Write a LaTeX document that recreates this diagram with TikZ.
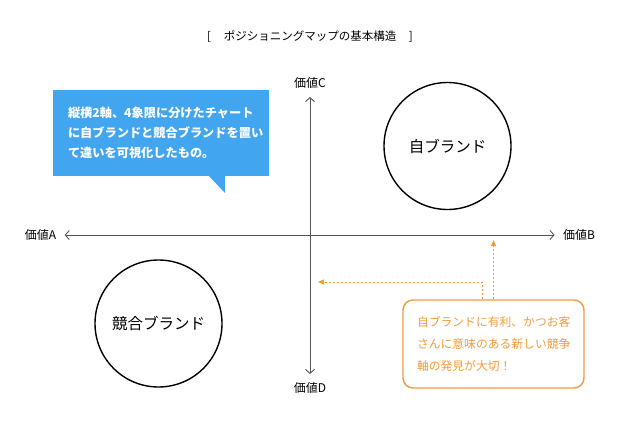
\documentclass[tikz,border=0pt]{standalone}
\usepackage{fontspec}
\setmainfont{Noto Sans CJK JP}
\usetikzlibrary{arrows.meta,positioning}
\definecolor{mapblue}{HTML}{42A5F0}
\definecolor{maporange}{HTML}{F39B3B}
\definecolor{axisgray}{HTML}{555555}
\tikzset{
  axislabel/.style={font=\fontsize{12}{14}\selectfont, inner sep=0pt, outer sep=8.5pt},
  axisline/.style={draw=axisgray, line width=0.9pt, {Straight Barb[length=4pt,width=9pt]}-{Straight Barb[length=4pt,width=9pt]}},
  brand/.style={circle, draw=black, line width=1.4pt, minimum size=127pt, inner sep=0pt, font=\fontsize{15.5}{18}\selectfont},
  hintarrow/.style={draw=maporange, line width=0.9pt, dash pattern=on 2pt off 2pt, -{Triangle[length=6pt,width=5pt]}}
}

\begin{document}
\begin{tikzpicture}[x=1pt,y=-1pt]
	\useasboundingbox (0,0) rectangle (620,425);
	
	\node[font=\fontsize{11.5}{13}\selectfont] (title) at (310,37) {[\hspace{1.1em}ポジショニングマップの基本構造\hspace{1.1em}]};
	
	% axes
	\node[axislabel] (valA) at (40.5,235) {価値A};
	\node[axislabel] (valB) at (579,235) {価値B};
	\node[axislabel] (valC) at (310,83) {価値C};
	\node[axislabel] (valD) at (310,388) {価値D};
	\draw[axisline] (valA) -- (valB);
	\draw[axisline] (valC) -- (valD);
	
	% brands
	\node[brand] (own) at (447.5,146) {自ブランド};
	\node[brand] (rival) at (158.5,323.5) {競合ブランド};
	
	% blue note
	\fill[mapblue] (208,175) -- (225,193) -- (225,175) -- cycle;
	\node[fill=mapblue, text=white, minimum width=216pt, minimum height=86pt, inner xsep=15pt,
		align=left, text width=186pt, font=\bfseries\fontsize{12.2}{20}\selectfont] (note) at (161,133)
		{縦横2軸、4象限に分けたチャート\\に自ブランドと競合ブランドを置い\\て違いを可視化したもの。};
	
	% orange hint
	\node[draw=maporange, line width=1.4pt, rounded corners=10pt, text=maporange, minimum width=181pt,
		minimum height=88pt, inner xsep=14pt, align=left, text width=153pt,
		font=\fontsize{11.8}{22}\selectfont] (hint) at (493.5,344)
		{自ブランドに有利、かつお客\\さんに意味のある新しい競争\\軸の発見が大切！};
	\coordinate (toAxis) at (318,282);
	\coordinate (toB) at (493.5,240);
	\draw[hintarrow] ([xshift=-11.5pt]hint.north) |- (toAxis);
	\draw[hintarrow] (hint.north) -- (toB);
\end{tikzpicture}
\end{document}
